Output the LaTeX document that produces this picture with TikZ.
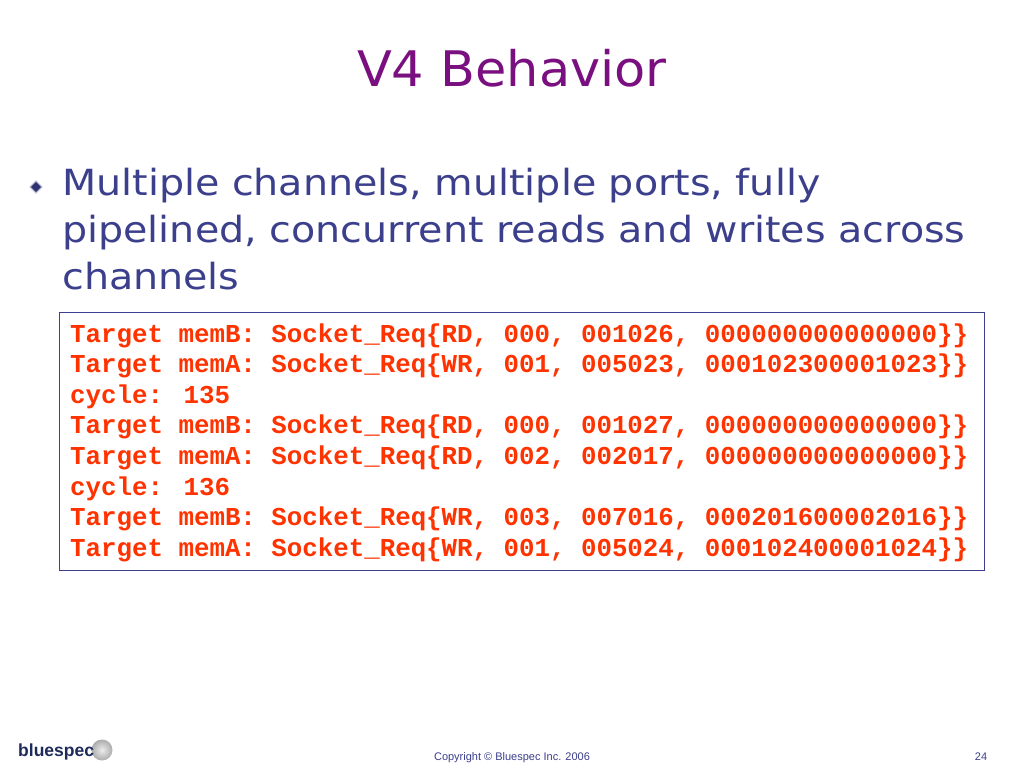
\documentclass[tikz,border=0pt]{standalone}
\usepackage{fontspec}
\usetikzlibrary{shapes.geometric}
\setmainfont{DejaVu Sans}
\newfontfamily\codefont{Liberation Mono}
\newfontfamily\footfont{Liberation Sans}
\definecolor{titlec}{HTML}{7A1080}
\definecolor{bodyc}{HTML}{3B3F8C}
\definecolor{codec}{HTML}{FF3300}
\definecolor{logoc}{HTML}{1E2A5A}
\begin{document}
\begin{tikzpicture}[x=1pt,y=-1pt,
  codeline/.style={anchor=base west,inner sep=0pt,font=\codefont\bfseries\fontsize{25.8}{28}\selectfont,text=codec},
  bodyline/.style={anchor=base west,inner sep=0pt,font=\fontsize{36}{40}\selectfont,text=bodyc,xscale=1.1,transform shape}]
\useasboundingbox (0,0) rectangle (1024,768);
\fill[white] (0,0) rectangle (1024,768);
\node[text=titlec,font=\fontsize{49}{52}\selectfont,anchor=base,xscale=1.04,transform shape] (title) at (512,86) {V4 Behavior};
\node[draw=white,fill=bodyc!80!black,diamond,minimum size=12pt,inner sep=0pt,line width=0.8pt] (bul) at (36,187) {};
\draw[bodyc!60] (bul.north) -- (bul.east) -- (bul.south) -- (bul.west) -- cycle;
\node[bodyline] (b1) at (62,195) {Multiple channels, multiple ports, fully};
\node[bodyline] (b2) at (62,242) {pipelined, concurrent reads and writes across};
\node[bodyline] (b3) at (62,289) {channels};
\draw[bodyc,line width=0.8pt] (59,312) rectangle (984,570);
\foreach \t [count=\i] in {%
 {Target memB: Socket\_Req\{RD, 000, 001026, 000000000000000\}\}},
 {Target memA: Socket\_Req\{WR, 001, 005023, 000102300001023\}\}},
 {cycle: 135},
 {Target memB: Socket\_Req\{RD, 000, 001027, 000000000000000\}\}},
 {Target memA: Socket\_Req\{RD, 002, 002017, 000000000000000\}\}},
 {cycle: 136},
 {Target memB: Socket\_Req\{WR, 003, 007016, 000201600002016\}\}},
 {Target memA: Socket\_Req\{WR, 001, 005024, 000102400001024\}\}}}
 \node[codeline] (c\i) at (70,{342+30.6*(\i-1)}) {\t};
\shade[inner color=gray!15,outer color=gray!65] (102,750) circle (10.5);
\node[anchor=base west,inner sep=0pt,font=\footfont\bfseries\fontsize{17.5}{18}\selectfont,text=logoc] (logo) at (18,756) {bluespec};
\node[font=\footfont\fontsize{11}{12}\selectfont,text=bodyc,anchor=base] (copy) at (512,760) {Copyright © Bluespec Inc. 2006};
\node[font=\footfont\fontsize{11}{12}\selectfont,text=bodyc,anchor=base] (pg) at (981,760) {24};
\end{tikzpicture}
\end{document}
